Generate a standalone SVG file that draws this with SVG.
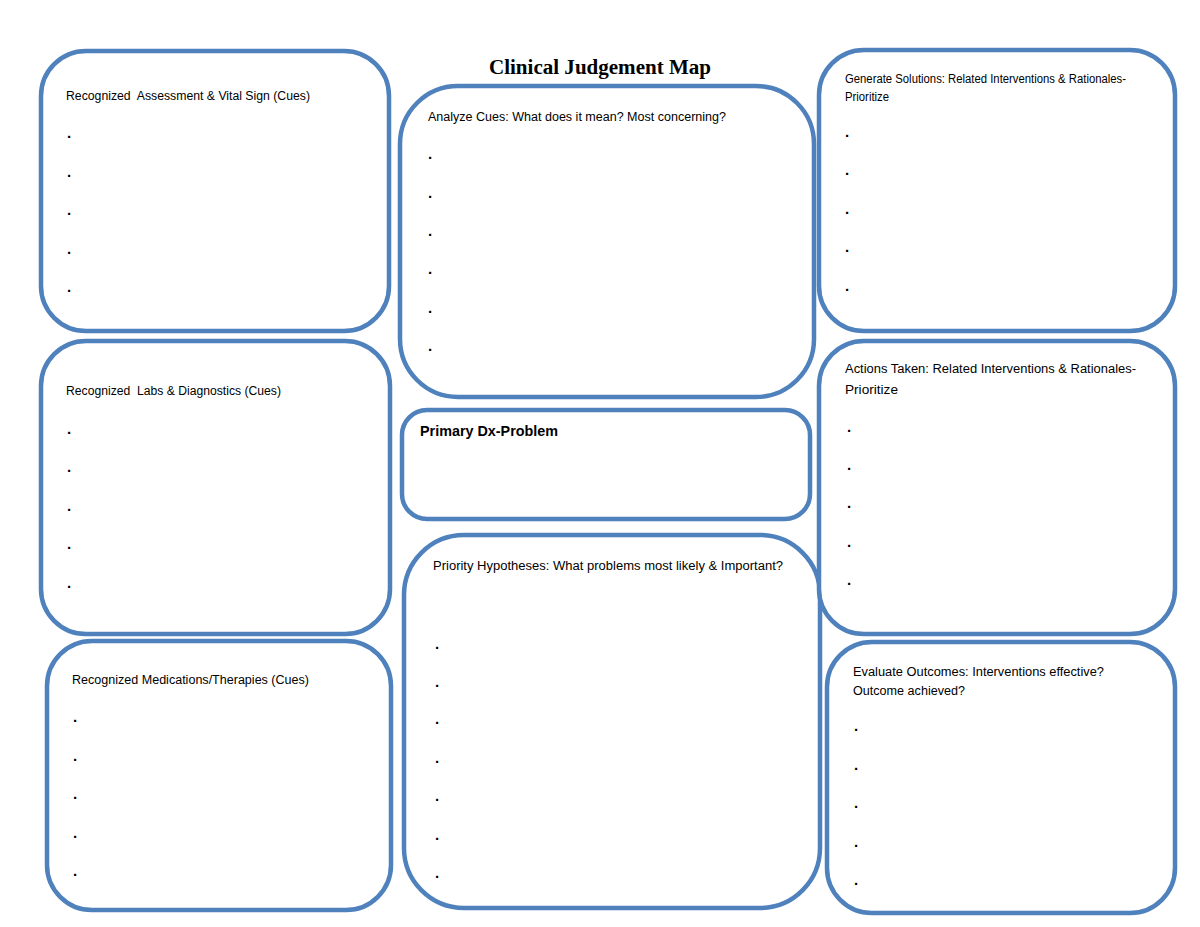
<svg xmlns="http://www.w3.org/2000/svg" width="1200" height="927" viewBox="0 0 1200 927">
<style>
.box{fill:#fff;stroke:#4f81bd;stroke-width:4.5}
.t{font-family:"Liberation Sans",Arial,sans-serif;font-size:12.5px;fill:#000;white-space:pre}
.b{font-weight:bold;font-size:14px}
.d{font-family:"Liberation Sans",Arial,sans-serif;font-size:15px;font-weight:bold;fill:#000}
.title{font-family:"Liberation Serif","Times New Roman",serif;font-size:20px;font-weight:bold;fill:#000}
</style>
<rect width="1200" height="927" fill="#fff"/>
<text class="title" x="600" y="74" text-anchor="middle" textLength="222" lengthAdjust="spacingAndGlyphs">Clinical Judgement Map</text>
<g id="assessment">
<rect class="box" x="41" y="51" width="348" height="280" rx="45"/>
<text class="t" x="66" y="100" xml:space="preserve" textLength="244" lengthAdjust="spacingAndGlyphs">Recognized  Assessment &amp; Vital Sign (Cues)</text>
<text class="d" x="67" y="138">.</text><text class="d" x="67" y="177">.</text><text class="d" x="67" y="215">.</text><text class="d" x="67" y="254">.</text><text class="d" x="67" y="292">.</text>
</g>
<g id="labs">
<rect class="box" x="41" y="341" width="349" height="293" rx="45"/>
<text class="t" x="66" y="395" xml:space="preserve" textLength="215" lengthAdjust="spacingAndGlyphs">Recognized  Labs &amp; Diagnostics (Cues)</text>
<text class="d" x="67" y="434">.</text><text class="d" x="67" y="472">.</text><text class="d" x="67" y="511">.</text><text class="d" x="67" y="549">.</text><text class="d" x="67" y="588">.</text>
</g>
<g id="meds">
<rect class="box" x="47" y="641" width="344" height="269" rx="45"/>
<text class="t" x="72" y="684" textLength="237" lengthAdjust="spacingAndGlyphs">Recognized Medications/Therapies (Cues)</text>
<text class="d" x="73" y="722">.</text><text class="d" x="73" y="761">.</text><text class="d" x="73" y="799">.</text><text class="d" x="73" y="838">.</text><text class="d" x="73" y="876">.</text>
</g>
<g id="analyze">
<rect class="box" x="400" y="86" width="414" height="311" rx="58"/>
<text class="t" x="428" y="121" textLength="298" lengthAdjust="spacingAndGlyphs">Analyze Cues: What does it mean? Most concerning?</text>
<text class="d" x="428" y="159">.</text><text class="d" x="428" y="198">.</text><text class="d" x="428" y="236">.</text><text class="d" x="428" y="274">.</text><text class="d" x="428" y="313">.</text><text class="d" x="428" y="351">.</text>
</g>
<g id="primary">
<rect class="box" x="402" y="410" width="408" height="109" rx="25"/>
<text class="t b" x="420" y="436" textLength="138" lengthAdjust="spacingAndGlyphs">Primary Dx-Problem</text>
</g>
<g id="hypotheses">
<rect class="box" x="404" y="535" width="416" height="373" rx="60"/>
<text class="t" x="433" y="570" textLength="350" lengthAdjust="spacingAndGlyphs">Priority Hypotheses: What problems most likely &amp; Important?</text>
<text class="d" x="435" y="649">.</text><text class="d" x="435" y="687">.</text><text class="d" x="435" y="724">.</text><text class="d" x="435" y="763">.</text><text class="d" x="435" y="801">.</text><text class="d" x="435" y="840">.</text><text class="d" x="435" y="878">.</text>
</g>
<g id="generate">
<rect class="box" x="819" y="50" width="356" height="281" rx="45"/>
<text class="t" x="845" y="83" textLength="281" lengthAdjust="spacingAndGlyphs">Generate Solutions: Related Interventions &amp; Rationales-</text>
<text class="t" x="845" y="101" textLength="44" lengthAdjust="spacingAndGlyphs">Prioritize</text>
<text class="d" x="845" y="137">.</text><text class="d" x="845" y="175">.</text><text class="d" x="845" y="214">.</text><text class="d" x="845" y="252">.</text><text class="d" x="845" y="291">.</text>
</g>
<g id="actions">
<rect class="box" x="819" y="341" width="356" height="293" rx="45"/>
<text class="t" x="845" y="373" textLength="291" lengthAdjust="spacingAndGlyphs">Actions Taken: Related Interventions &amp; Rationales-</text>
<text class="t" x="845" y="394" textLength="53" lengthAdjust="spacingAndGlyphs">Prioritize</text>
<text class="d" x="847" y="432">.</text><text class="d" x="847" y="470">.</text><text class="d" x="847" y="508">.</text><text class="d" x="847" y="547">.</text><text class="d" x="847" y="585">.</text>
</g>
<g id="evaluate">
<rect class="box" x="827" y="642" width="348" height="271" rx="45"/>
<text class="t" x="853" y="676" textLength="251" lengthAdjust="spacingAndGlyphs">Evaluate Outcomes: Interventions effective?</text>
<text class="t" x="853" y="695" textLength="112" lengthAdjust="spacingAndGlyphs">Outcome achieved?</text>
<text class="d" x="854" y="731">.</text><text class="d" x="854" y="770">.</text><text class="d" x="854" y="808">.</text><text class="d" x="854" y="847">.</text><text class="d" x="854" y="885">.</text>
</g>
<g id="connectors"></g>
</svg>
